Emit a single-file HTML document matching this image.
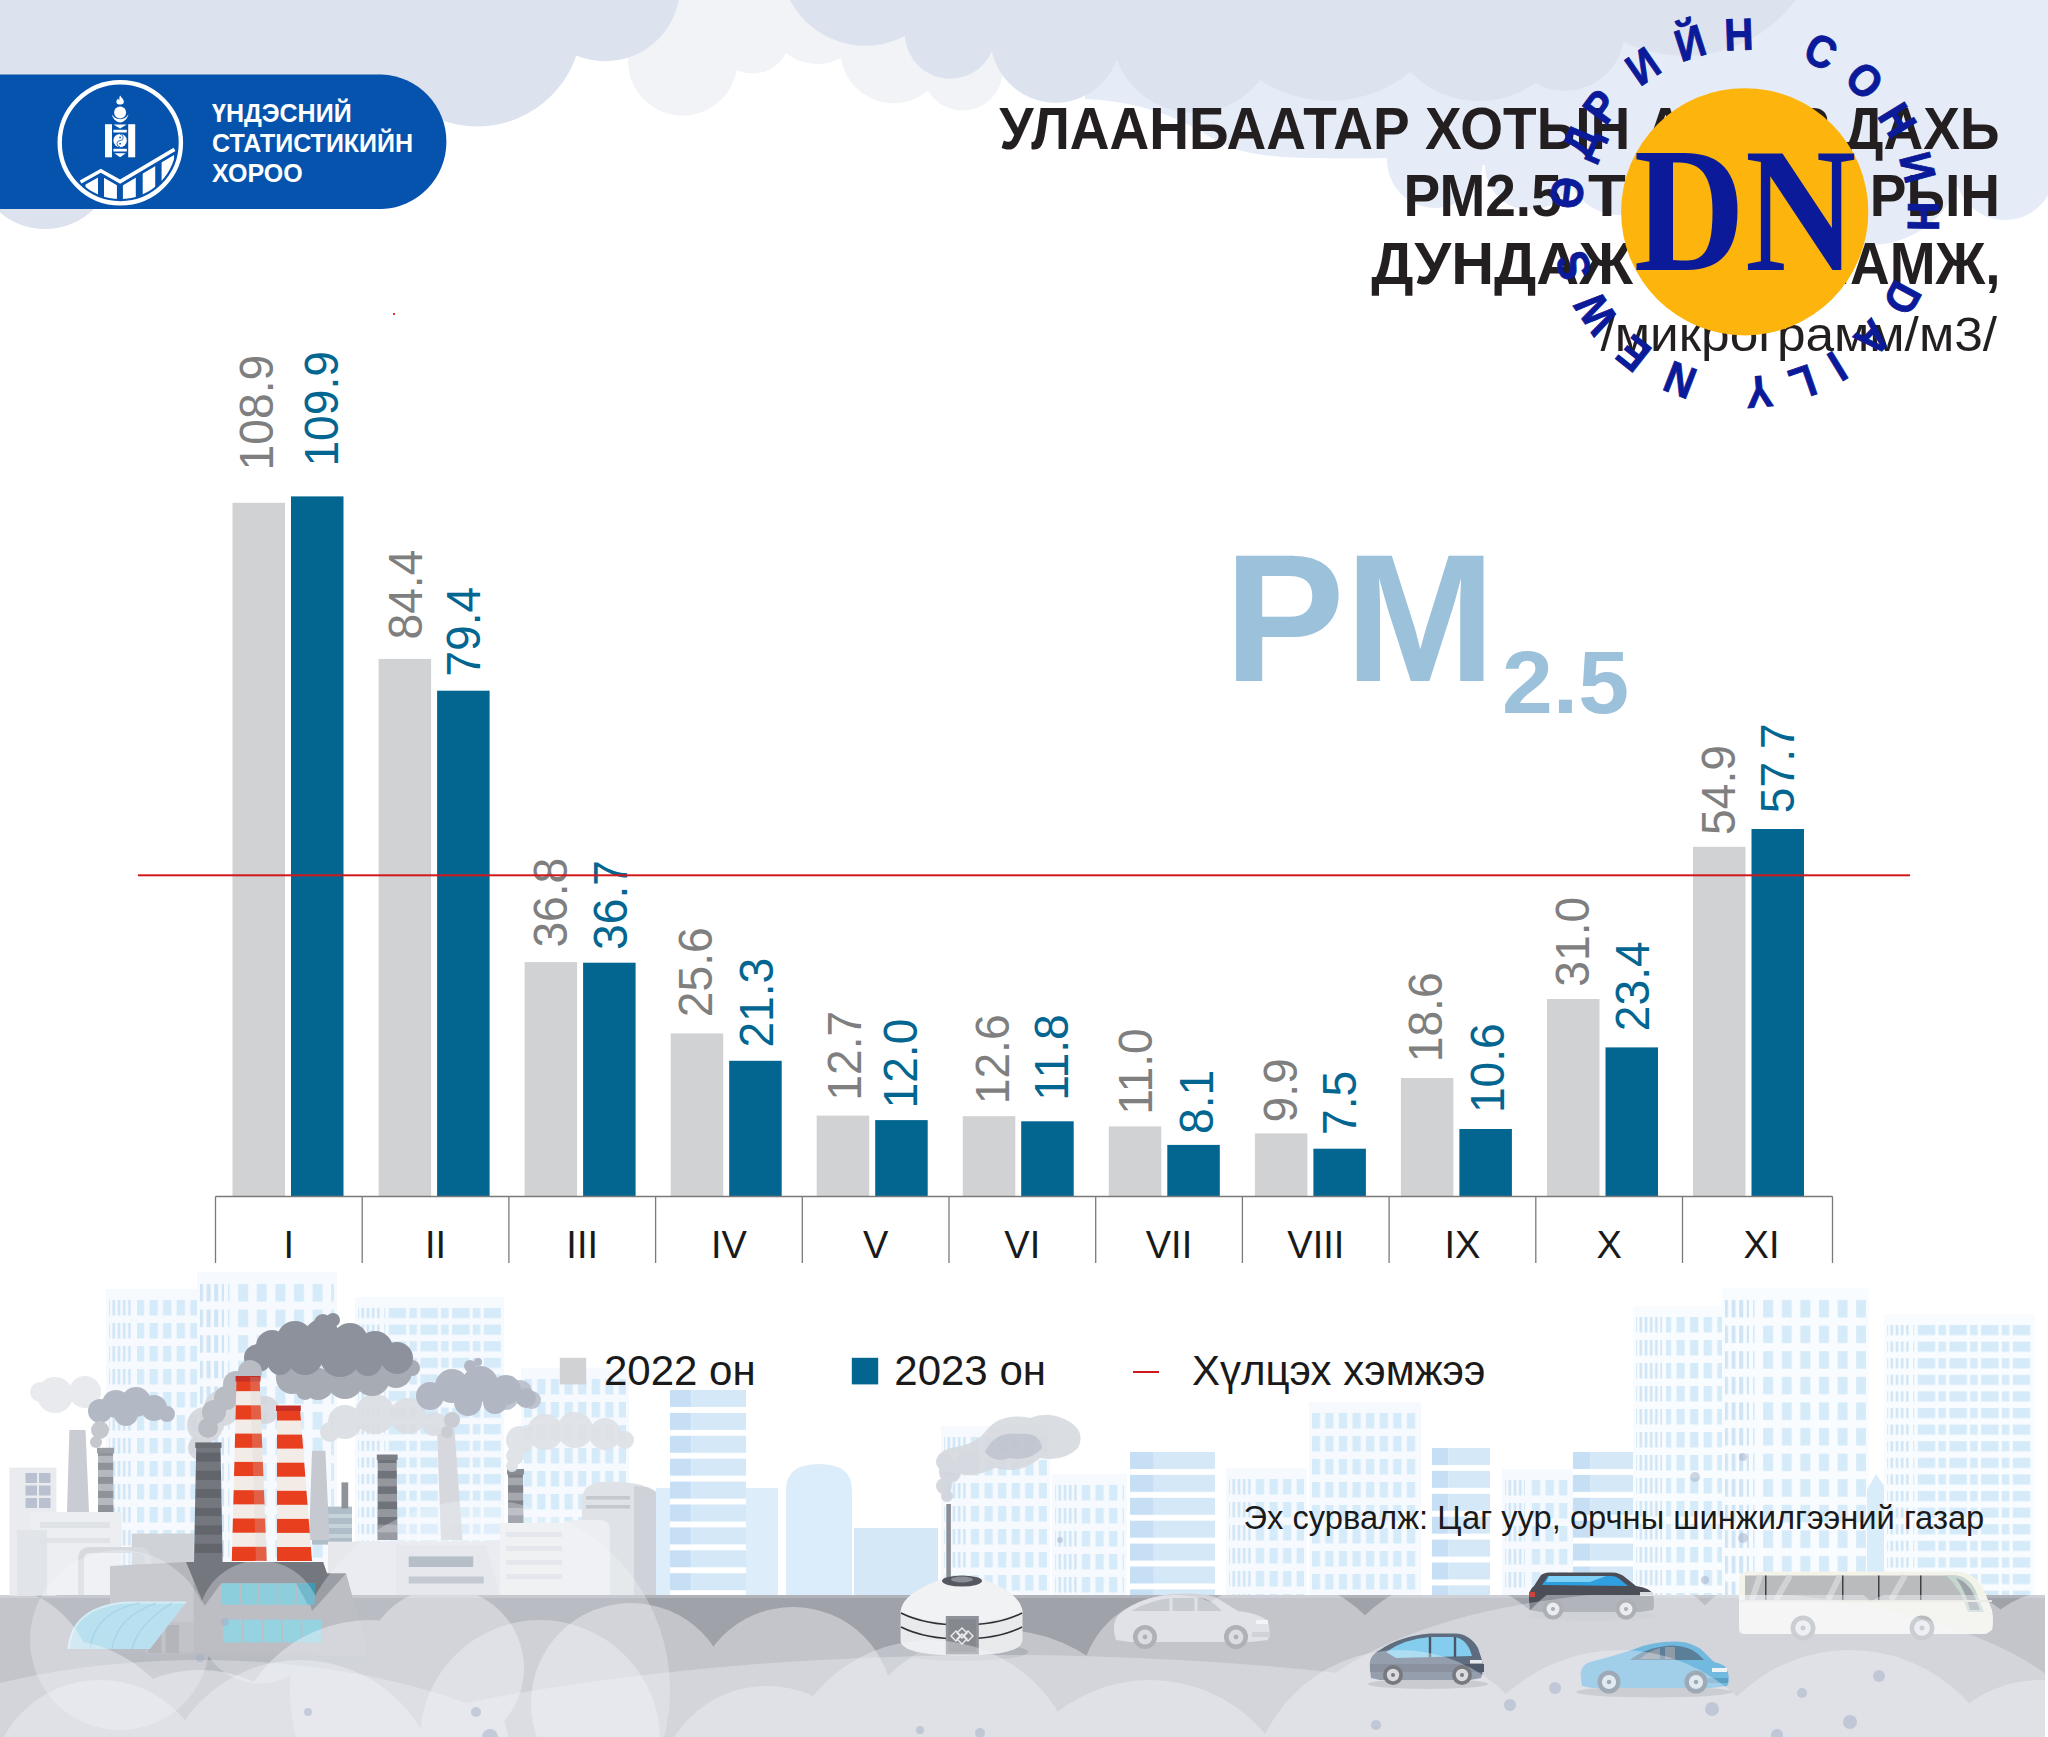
<!DOCTYPE html>
<html lang="mn"><head><meta charset="utf-8"><title>PM2.5</title>
<style>
html,body{margin:0;padding:0;background:#fff;}
body{width:2048px;height:1737px;overflow:hidden;font-family:"Liberation Sans",sans-serif;}
svg{display:block}
</style></head><body>
<svg width="2048" height="1737" viewBox="0 0 2048 1737">
<rect width="2048" height="1737" fill="#ffffff"/>
<defs>
<pattern id="wg" width="13.6" height="23" patternUnits="userSpaceOnUse"><rect x="2.6" y="3" width="8.4" height="15.5" fill="#d6ebf9"/></pattern>
<pattern id="wn" width="5.2" height="23" patternUnits="userSpaceOnUse"><rect x="1.3" y="3" width="2.6" height="15.5" fill="#cfe5f6"/></pattern>
<pattern id="wm" width="18.6" height="25.6" patternUnits="userSpaceOnUse"><rect x="4" y="4" width="10" height="17.5" fill="#d6ebf9"/></pattern>
<pattern id="wnm" width="7.6" height="25.6" patternUnits="userSpaceOnUse"><rect x="2" y="4" width="4" height="17.5" fill="#cfe5f6"/></pattern>
<pattern id="wr" width="31.7" height="16.6" patternUnits="userSpaceOnUse"><rect x="2" y="3" width="17.5" height="10.2" fill="#d6ebf9"/><rect x="22.6" y="3" width="7.7" height="10.2" fill="#d6ebf9"/></pattern>
<pattern id="wnr" width="5.2" height="16.6" patternUnits="userSpaceOnUse"><rect x="1.3" y="3" width="2.6" height="10.2" fill="#cfe5f6"/></pattern>
<pattern id="ws" width="100" height="22.9" patternUnits="userSpaceOnUse"><rect x="0" y="0" width="100" height="17" fill="#d5e8f8"/></pattern>
<pattern id="wsd" width="100" height="22.9" patternUnits="userSpaceOnUse"><rect x="0" y="0" width="100" height="17" fill="#c6dff5"/></pattern>
<linearGradient id="gnd" x1="0" y1="0" x2="0" y2="1"><stop offset="0" stop-color="#a9acb3"/><stop offset="0.07" stop-color="#acafb6"/><stop offset="0.08" stop-color="#b6b9bf"/><stop offset="1" stop-color="#c9ccd2"/></linearGradient>
<linearGradient id="fade" x1="0" y1="0" x2="0" y2="1"><stop offset="0" stop-color="#fff" stop-opacity="0"/><stop offset="1" stop-color="#fff" stop-opacity="0.55"/></linearGradient>
</defs>
<g id="buildings">
<rect x="106" y="1289" width="94" height="306" fill="#f6fafe"/>
<g transform="translate(106 1297)">
<rect x="3" y="0" width="24" height="298" fill="url(#wn)"/>
<rect x="31" y="0" width="60" height="298" fill="url(#wg)"/>
</g>
<rect x="197" y="1272" width="140" height="323" fill="#f6fafe"/>
<g transform="translate(197 1280)">
<rect x="3" y="0" width="24" height="315" fill="url(#wnm)"/>
<rect x="31" y="0" width="106" height="315" fill="url(#wm)"/>
</g>
<rect x="355" y="1297" width="149" height="298" fill="#f6fafe"/>
<g transform="translate(355 1305)">
<rect x="3" y="0" width="22" height="290" fill="url(#wnr)"/>
<rect x="29" y="0" width="117" height="290" fill="url(#wr)"/>
</g>
<rect x="521" y="1368" width="108" height="227" fill="#f6fafe"/>
<g transform="translate(521 1376)">
<rect x="3" y="0" width="102" height="219" fill="url(#wg)"/>
</g>
<rect x="656" y="1488" width="122" height="107" fill="#ddeefa"/>
<rect x="670" y="1390" width="76" height="205" fill="#ffffff"/>
<g transform="translate(0 1390)"><rect x="670" y="0" width="21.3" height="205" fill="url(#wsd)"/><rect x="691.3" y="0" width="54.7" height="205" fill="url(#ws)"/></g>
<path d="M786 1595 V1490 Q786 1464 819 1464 Q852 1464 852 1490 V1595 Z" fill="#dbedfa"/>
<rect x="854" y="1528" width="84" height="67" fill="#d4e8f8"/>
<rect x="941" y="1426" width="109" height="169" fill="#f6fafe"/>
<g transform="translate(941 1434)">
<rect x="3" y="0" width="22" height="161" fill="url(#wn)"/>
<rect x="29" y="0" width="77" height="161" fill="url(#wg)"/>
</g>
<rect x="1052" y="1474" width="75" height="121" fill="#f6fafe"/>
<g transform="translate(1052 1482)">
<rect x="3" y="0" width="22" height="113" fill="url(#wn)"/>
<rect x="29" y="0" width="43" height="113" fill="url(#wg)"/>
</g>
<rect x="1130" y="1452" width="85" height="143" fill="#ffffff"/>
<g transform="translate(0 1452)"><rect x="1130" y="0" width="23.8" height="143" fill="url(#wsd)"/><rect x="1153.8" y="0" width="61.2" height="143" fill="url(#ws)"/></g>
<rect x="1226" y="1468" width="81" height="127" fill="#f6fafe"/>
<g transform="translate(1226 1476)">
<rect x="3" y="0" width="22" height="119" fill="url(#wn)"/>
<rect x="29" y="0" width="49" height="119" fill="url(#wg)"/>
</g>
<rect x="1309" y="1402" width="112" height="193" fill="#f6fafe"/>
<g transform="translate(1309 1410)">
<rect x="3" y="0" width="106" height="185" fill="url(#wg)"/>
</g>
<rect x="1432" y="1448" width="58" height="147" fill="#ffffff"/>
<g transform="translate(0 1448)"><rect x="1432" y="0" width="16.2" height="147" fill="url(#wsd)"/><rect x="1448.2" y="0" width="41.8" height="147" fill="url(#ws)"/></g>
<rect x="1502" y="1469" width="78" height="126" fill="#f6fafe"/>
<g transform="translate(1502 1477)">
<rect x="3" y="0" width="20" height="118" fill="url(#wn)"/>
<rect x="27" y="0" width="48" height="118" fill="url(#wg)"/>
</g>
<rect x="1573" y="1452" width="63" height="143" fill="#ffffff"/>
<g transform="translate(0 1452)"><rect x="1573" y="0" width="17.6" height="143" fill="url(#wsd)"/><rect x="1590.6" y="0" width="45.4" height="143" fill="url(#ws)"/></g>
<rect x="1633" y="1306" width="96" height="289" fill="#f9fcff"/>
<g transform="translate(1633 1314)">
<rect x="3" y="0" width="26" height="281" fill="url(#wn)"/>
<rect x="33" y="0" width="60" height="281" fill="url(#wg)"/>
</g>
<rect x="1722" y="1288" width="147" height="307" fill="#f9fcff"/>
<g transform="translate(1722 1296)">
<rect x="3" y="0" width="24" height="299" fill="url(#wnm)"/>
<rect x="31" y="0" width="113" height="299" fill="url(#wm)"/>
</g>
<path d="M1867 1595 V1490 L1876 1474 L1887 1490 V1595 Z" fill="#d9ecf9"/>
<rect x="1884" y="1314" width="151" height="281" fill="#f9fcff"/>
<g transform="translate(1884 1322)">
<rect x="3" y="0" width="22" height="273" fill="url(#wnr)"/>
<rect x="29" y="0" width="119" height="273" fill="url(#wr)"/>
</g>
</g>
<rect x="0" y="1595" width="2045" height="142" fill="#9fa2a9"/>
<rect x="0" y="1595" width="2045" height="3" fill="#b0b3b9"/>
<g id="factory">
<rect x="9.4" y="1467.6" width="47" height="128" fill="#e9ebef"/>
<g fill="#b9c1d0"><rect x="25.5" y="1473" width="11.5" height="10"/><rect x="39" y="1473" width="11.5" height="10"/><rect x="25.5" y="1485.5" width="11.5" height="10"/><rect x="39" y="1485.5" width="11.5" height="10"/><rect x="25.5" y="1498" width="11.5" height="10"/><rect x="39" y="1498" width="11.5" height="10"/></g>
<polygon points="69.4,1430 85.5,1430 89,1512 67,1512" fill="#c9ccd3"/>
<clipPath id="c895a15"><polygon points="98,1448.8 113,1448.8 113.5,1512 98,1512"/></clipPath>
<g clip-path="url(#c895a15)">
<rect x="96" y="1448.8" width="19.5" height="7.5" fill="#8f9299"/>
<rect x="96" y="1455.8" width="19.5" height="7.5" fill="#b5b8be"/>
<rect x="96" y="1462.8" width="19.5" height="7.5" fill="#8f9299"/>
<rect x="96" y="1469.9" width="19.5" height="7.5" fill="#b5b8be"/>
<rect x="96" y="1476.9" width="19.5" height="7.5" fill="#8f9299"/>
<rect x="96" y="1483.9" width="19.5" height="7.5" fill="#b5b8be"/>
<rect x="96" y="1490.9" width="19.5" height="7.5" fill="#8f9299"/>
<rect x="96" y="1498.0" width="19.5" height="7.5" fill="#b5b8be"/>
<rect x="96" y="1505.0" width="19.5" height="7.5" fill="#8f9299"/>
</g>
<rect x="97" y="1447.8" width="17" height="5.5" fill="#9a9da4"/>
<rect x="29.6" y="1512" width="92" height="83" fill="#eceef1"/>
<rect x="17" y="1530" width="30" height="65" fill="#e1e4e8"/>
<g fill="#dfe2e7"><rect x="40" y="1522" width="70" height="6"/><rect x="40" y="1538" width="70" height="5"/></g>
<rect x="131.8" y="1533.5" width="62" height="40" fill="#cfd2d7"/>
<path d="M81 1595 V1560 Q81 1550 91 1550 H138 Q148 1550 148 1560 V1595" fill="none" stroke="#d6d9de" stroke-width="6"/>
<rect x="312" y="1506.6" width="40" height="38" fill="#aebdc7"/>
<g fill="#c7d3da"><rect x="312" y="1514" width="40" height="4"/><rect x="312" y="1524" width="40" height="4"/><rect x="312" y="1534" width="40" height="4"/></g>
<polygon points="312,1450.7 325.4,1450.7 329.5,1540 309,1540" fill="#c6c9cf"/>
<rect x="341.5" y="1482.4" width="6.7" height="26" fill="#8e9299"/>
<clipPath id="ce635b0"><polygon points="377.8,1455.5 396.6,1455.5 397.5,1540 377.5,1540"/></clipPath>
<g clip-path="url(#ce635b0)">
<rect x="375.5" y="1455.5" width="24.0" height="8.2" fill="#70737a"/>
<rect x="375.5" y="1463.2" width="24.0" height="8.2" fill="#94979e"/>
<rect x="375.5" y="1470.9" width="24.0" height="8.2" fill="#70737a"/>
<rect x="375.5" y="1478.5" width="24.0" height="8.2" fill="#94979e"/>
<rect x="375.5" y="1486.2" width="24.0" height="8.2" fill="#70737a"/>
<rect x="375.5" y="1493.9" width="24.0" height="8.2" fill="#94979e"/>
<rect x="375.5" y="1501.6" width="24.0" height="8.2" fill="#70737a"/>
<rect x="375.5" y="1509.3" width="24.0" height="8.2" fill="#94979e"/>
<rect x="375.5" y="1517.0" width="24.0" height="8.2" fill="#70737a"/>
<rect x="375.5" y="1524.6" width="24.0" height="8.2" fill="#94979e"/>
<rect x="375.5" y="1532.3" width="24.0" height="8.2" fill="#70737a"/>
</g>
<rect x="376.8" y="1454.5" width="20.80000000000001" height="5.5" fill="#7c7f86"/>
<polygon points="437,1428.6 454.4,1428.6 462.5,1540 441,1540" fill="#d6d8dd"/>
<clipPath id="c86783f"><polygon points="508,1470 523,1470 523.5,1523 508,1523"/></clipPath>
<g clip-path="url(#c86783f)">
<rect x="506" y="1470.0" width="19.5" height="8.1" fill="#80838a"/>
<rect x="506" y="1477.6" width="19.5" height="8.1" fill="#a5a8af"/>
<rect x="506" y="1485.1" width="19.5" height="8.1" fill="#80838a"/>
<rect x="506" y="1492.7" width="19.5" height="8.1" fill="#a5a8af"/>
<rect x="506" y="1500.3" width="19.5" height="8.1" fill="#80838a"/>
<rect x="506" y="1507.9" width="19.5" height="8.1" fill="#a5a8af"/>
<rect x="506" y="1515.4" width="19.5" height="8.1" fill="#80838a"/>
</g>
<rect x="507" y="1469" width="17" height="5.5" fill="#8a8d94"/>
<rect x="328" y="1541.6" width="250" height="53.4" fill="#e6e8ec"/>
<polygon points="396,1545 486,1545 500,1595 396,1595" fill="#dfe2e6"/>
<rect x="408.7" y="1556.4" width="64.5" height="10.6" fill="#9ba6b1"/><rect x="408.7" y="1576.5" width="75" height="7" fill="#aeb6bf"/>
<rect x="500" y="1523" width="80" height="72" fill="#eceef0"/>
<g fill="#dde0e5"><rect x="506" y="1532" width="68" height="5"/><rect x="506" y="1546" width="68" height="5"/><rect x="506" y="1560" width="68" height="5"/><rect x="506" y="1574" width="68" height="5"/></g>
<path d="M582 1595 V1500 Q582 1484 602 1482 Q640 1480 656 1492 V1595 Z" fill="#dfe2e6"/>
<path d="M634 1595 V1486 Q650 1486 656 1492 V1595 Z" fill="#cfd2d8"/>
<g fill="#c4c8cf"><rect x="586" y="1496" width="44" height="3.5"/><rect x="586" y="1505" width="44" height="3.5"/></g>
<path d="M562 1595 V1530 Q562 1520 575 1520 H600 Q610 1520 610 1530 V1595 Z" fill="#eceef1"/>
<g fill="#e6e8ec" opacity="0.9"><circle cx="55" cy="1395" r="18"/><circle cx="85" cy="1392" r="16"/><circle cx="40" cy="1392" r="10"/></g>
<g fill="#d4d7dc" opacity="0.9"><circle cx="205" cy="1425" r="18"/><circle cx="222" cy="1408" r="18"/><circle cx="245" cy="1398" r="16"/><circle cx="200" cy="1448" r="12"/><circle cx="265" cy="1410" r="14"/></g>
<g fill="#dcdfe4" opacity="0.95"><circle cx="345" cy="1422" r="17"/><circle cx="375" cy="1414" r="20"/><circle cx="408" cy="1416" r="18"/><circle cx="434" cy="1424" r="12"/><circle cx="330" cy="1432" r="10"/></g>
<g fill="#dfe2e6" opacity="0.95"><circle cx="520" cy="1440" r="14"/><circle cx="545" cy="1432" r="18"/><circle cx="575" cy="1430" r="18"/><circle cx="605" cy="1434" r="16"/><circle cx="625" cy="1440" r="9"/><circle cx="515" cy="1456" r="9"/><circle cx="512" cy="1466" r="6"/></g>
<g fill="#b9bfcb" opacity="0.9"><circle cx="506" cy="1398" r="12"/><circle cx="520" cy="1392" r="12"/><circle cx="532" cy="1400" r="9"/></g>
<g fill="#b3b8c5" opacity="1"><circle cx="100" cy="1411" r="12"/><circle cx="116" cy="1404" r="14"/><circle cx="136" cy="1402" r="15"/><circle cx="154" cy="1408" r="13"/><circle cx="167" cy="1414" r="8"/><circle cx="126" cy="1414" r="12"/></g>
<g fill="#c4c7ce" opacity="1"><circle cx="100" cy="1430" r="9"/><circle cx="96" cy="1442" r="6"/></g>
<g fill="#b1b6c3" opacity="1"><circle cx="430" cy="1396" r="14"/><circle cx="452" cy="1386" r="17"/><circle cx="480" cy="1384" r="18"/><circle cx="506" cy="1390" r="15"/><circle cx="526" cy="1398" r="10"/><circle cx="468" cy="1402" r="14"/><circle cx="495" cy="1402" r="12"/></g>
<g fill="#b1b6c3" opacity="1"><circle cx="470" cy="1366" r="6"/><circle cx="478" cy="1362" r="4"/></g>
<g fill="#c9ccd2" opacity="1"><circle cx="452" cy="1420" r="8"/><circle cx="447" cy="1432" r="6"/></g>
<g fill="#a7abb4" opacity="1"><circle cx="292" cy="1378" r="16"/><circle cx="318" cy="1384" r="16"/><circle cx="345" cy="1381" r="18"/><circle cx="372" cy="1378" r="18"/><circle cx="396" cy="1372" r="16"/><circle cx="305" cy="1391" r="9"/><circle cx="412" cy="1368" r="8"/></g>
<g fill="#8c919b" opacity="1"><circle cx="258" cy="1358" r="14"/><circle cx="272" cy="1346" r="16"/><circle cx="295" cy="1339" r="18"/><circle cx="322" cy="1337" r="18"/><circle cx="350" cy="1341" r="18"/><circle cx="375" cy="1349" r="18"/><circle cx="397" cy="1358" r="16"/><circle cx="340" cy="1357" r="20"/><circle cx="305" cy="1357" r="18"/><circle cx="280" cy="1363" r="12"/><circle cx="368" cy="1362" r="14"/></g>
<g fill="#8c919b" opacity="1"><circle cx="323" cy="1323" r="9"/><circle cx="333" cy="1320" r="7"/><circle cx="354" cy="1331" r="4"/></g>
<g fill="#b9bcc3" opacity="1"><circle cx="236" cy="1384" r="13"/><circle cx="250" cy="1372" r="12"/><circle cx="226" cy="1398" r="12"/><circle cx="214" cy="1412" r="12"/><circle cx="208" cy="1428" r="10"/></g>
<clipPath id="c2b5371"><polygon points="196.3,1443.4 220.5,1443.4 222.6,1562 194,1562"/></clipPath>
<g clip-path="url(#c2b5371)">
<rect x="192" y="1443.4" width="32.599999999999994" height="9.6" fill="#74777e"/>
<rect x="192" y="1452.5" width="32.599999999999994" height="9.6" fill="#62656c"/>
<rect x="192" y="1461.6" width="32.599999999999994" height="9.6" fill="#74777e"/>
<rect x="192" y="1470.8" width="32.599999999999994" height="9.6" fill="#62656c"/>
<rect x="192" y="1479.9" width="32.599999999999994" height="9.6" fill="#74777e"/>
<rect x="192" y="1489.0" width="32.599999999999994" height="9.6" fill="#62656c"/>
<rect x="192" y="1498.1" width="32.599999999999994" height="9.6" fill="#74777e"/>
<rect x="192" y="1507.3" width="32.599999999999994" height="9.6" fill="#62656c"/>
<rect x="192" y="1516.4" width="32.599999999999994" height="9.6" fill="#74777e"/>
<rect x="192" y="1525.5" width="32.599999999999994" height="9.6" fill="#62656c"/>
<rect x="192" y="1534.6" width="32.599999999999994" height="9.6" fill="#74777e"/>
<rect x="192" y="1543.8" width="32.599999999999994" height="9.6" fill="#62656c"/>
<rect x="192" y="1552.9" width="32.599999999999994" height="9.6" fill="#74777e"/>
</g>
<rect x="195.3" y="1442.4" width="26.19999999999999" height="5.5" fill="#6a6d74"/>
<clipPath id="c2661df"><polygon points="236.6,1377 259.5,1377 266.7,1561 231.8,1561"/></clipPath>
<g clip-path="url(#c2661df)">
<rect x="229.8" y="1377.0" width="38.89999999999998" height="14.7" fill="#e8401f"/>
<rect x="229.8" y="1391.2" width="38.89999999999998" height="14.7" fill="#f3ebe6"/>
<rect x="229.8" y="1405.3" width="38.89999999999998" height="14.7" fill="#e8401f"/>
<rect x="229.8" y="1419.5" width="38.89999999999998" height="14.7" fill="#f3ebe6"/>
<rect x="229.8" y="1433.6" width="38.89999999999998" height="14.7" fill="#e8401f"/>
<rect x="229.8" y="1447.8" width="38.89999999999998" height="14.7" fill="#f3ebe6"/>
<rect x="229.8" y="1461.9" width="38.89999999999998" height="14.7" fill="#e8401f"/>
<rect x="229.8" y="1476.1" width="38.89999999999998" height="14.7" fill="#f3ebe6"/>
<rect x="229.8" y="1490.2" width="38.89999999999998" height="14.7" fill="#e8401f"/>
<rect x="229.8" y="1504.4" width="38.89999999999998" height="14.7" fill="#f3ebe6"/>
<rect x="229.8" y="1518.5" width="38.89999999999998" height="14.7" fill="#e8401f"/>
<rect x="229.8" y="1532.7" width="38.89999999999998" height="14.7" fill="#f3ebe6"/>
<rect x="229.8" y="1546.8" width="38.89999999999998" height="14.7" fill="#e8401f"/>
</g>
<rect x="235.6" y="1376" width="24.900000000000006" height="5.5" fill="#c62f25"/>
<clipPath id="cb823f7"><polygon points="277,1406.5 299.8,1406.5 312,1561 277,1561"/></clipPath>
<g clip-path="url(#cb823f7)">
<rect x="275" y="1406.5" width="39" height="14.5" fill="#e8401f"/>
<rect x="275" y="1420.5" width="39" height="14.5" fill="#f3ebe6"/>
<rect x="275" y="1434.6" width="39" height="14.5" fill="#e8401f"/>
<rect x="275" y="1448.6" width="39" height="14.5" fill="#f3ebe6"/>
<rect x="275" y="1462.7" width="39" height="14.5" fill="#e8401f"/>
<rect x="275" y="1476.7" width="39" height="14.5" fill="#f3ebe6"/>
<rect x="275" y="1490.8" width="39" height="14.5" fill="#e8401f"/>
<rect x="275" y="1504.8" width="39" height="14.5" fill="#f3ebe6"/>
<rect x="275" y="1518.9" width="39" height="14.5" fill="#e8401f"/>
<rect x="275" y="1532.9" width="39" height="14.5" fill="#f3ebe6"/>
<rect x="275" y="1547.0" width="39" height="14.5" fill="#e8401f"/>
</g>
<rect x="276" y="1405.5" width="24.80000000000001" height="5.5" fill="#c62f25"/>
<polygon points="250,1377 259.5,1377 266.7,1561 256,1561" fill="#d2d2d2" opacity="0.22"/>
<polygon points="110,1566 186,1562 323,1562 327,1573.5 346,1573.5 366,1646 366,1654.5 146.5,1654.5 146.5,1622 110,1622" fill="#b4b6bb"/>
<polygon points="193.6,1562 323,1562 327,1573.5 346,1573.5 366,1646 366,1654.5 193.6,1654.5" fill="#a3a5ab"/>
<polygon points="186,1562 323,1562 327,1573.5 346,1573.5 312,1611 304,1583.5 221,1583.5 204.5,1606" fill="#74777e"/>
<rect x="221.8" y="1583.3" width="92.8" height="21.5" fill="#5fbcd0"/>
<rect x="223.2" y="1619.6" width="98.1" height="22.8" fill="#6cc3d6"/>
<g fill="#a3a5ab"><rect x="239.6" y="1583.3" width="1.6" height="21.5"/><rect x="258.1" y="1583.3" width="1.6" height="21.5"/><rect x="276.7" y="1583.3" width="1.6" height="21.5"/><rect x="295.2" y="1583.3" width="1.6" height="21.5"/><rect x="242.0" y="1619.6" width="1.6" height="22.8"/><rect x="261.6" y="1619.6" width="1.6" height="22.8"/><rect x="281.2" y="1619.6" width="1.6" height="22.8"/><rect x="300.8" y="1619.6" width="1.6" height="22.8"/></g>
<polygon points="296,1583.3 314.6,1583.3 314.6,1604.8 308,1604.8" fill="#2b8fa8" opacity="0.7"/>
<rect x="146.5" y="1622" width="47" height="32.5" fill="#aaadb2"/>
<rect x="148" y="1625" width="13.5" height="28" fill="#97999f"/><rect x="165.5" y="1625" width="13.5" height="28" fill="#97999f"/>
<path d="M68.6 1649 Q72 1606 128 1602.5 L186 1602.5 L150 1649 Z" fill="#9fd6ea"/>
<path d="M68.6 1649 Q72 1606 128 1602.5 L186 1602.5" fill="none" stroke="#c6e8f3" stroke-width="2"/>
<g stroke="#7fc4dd" stroke-width="1.2" fill="none"><path d="M90 1649 Q94 1612 140 1603"/><path d="M112 1649 Q116 1618 156 1603"/><path d="M132 1649 Q138 1624 172 1603"/></g>
<ellipse cx="222" cy="1662" rx="152" ry="10" fill="#9da0a7" opacity="0.55"/>
</g>
<g id="vehicles">
<ellipse cx="1192" cy="1644" rx="80" ry="6" fill="#9fa2a9" opacity="0.5"/>
<path d="M1114 1632 Q1113 1618 1122 1612 Q1140 1598 1170 1594 Q1200 1592 1215 1597 L1238 1611 Q1262 1614 1268 1622 Q1271 1632 1268 1640 L1250 1642 H1130 L1116 1640 Z" fill="#d2d4d8"/>
<path d="M1131 1611 Q1150 1600 1172 1598 H1200 Q1210 1598 1222 1611 Z" fill="#a9acb3"/>
<path d="M1171 1598 v13 M1196 1598 v13" stroke="#d2d4d8" stroke-width="3"/>
<rect x="1256" y="1620" width="12" height="4" fill="#f2f2f2"/><rect x="1252" y="1632" width="18" height="5" fill="#b5b8be"/>
<circle cx="1145" cy="1637" r="12" fill="#7d8087"/><circle cx="1145" cy="1637" r="7.4" fill="#c9cbd0"/><circle cx="1145" cy="1637" r="2.4" fill="#7d8087"/>
<circle cx="1236" cy="1637" r="12" fill="#7d8087"/><circle cx="1236" cy="1637" r="7.4" fill="#c9cbd0"/><circle cx="1236" cy="1637" r="2.4" fill="#7d8087"/>
<ellipse cx="1592" cy="1616" rx="64" ry="5" fill="#8d9097" opacity="0.5"/>
<path d="M1529 1600 Q1528 1590 1534 1586 L1541 1575 Q1544 1572.5 1550 1572.5 H1612 Q1620 1572.5 1626 1578 L1636 1586 Q1650 1588 1653 1594 Q1655 1604 1653 1610 L1640 1612 H1540 L1530 1610 Z" fill="#4b4e56"/>
<path d="M1542 1585 L1548 1576 H1611 Q1617 1576 1622 1581 L1628 1586 Z" fill="#2f9fe0"/>
<path d="M1549 1576 H1606 L1590 1582 H1546 Z" fill="#7fd0f5"/>
<rect x="1640" y="1592" width="13" height="4" fill="#d9dbdf"/><rect x="1529" y="1592" width="6" height="5" fill="#c9453c"/>
<circle cx="1553" cy="1609" r="10.5" fill="#3d4047"/><circle cx="1553" cy="1609" r="6.5" fill="#d9dbdf"/><circle cx="1553" cy="1609" r="2.1" fill="#3d4047"/>
<circle cx="1626" cy="1609" r="10.5" fill="#3d4047"/><circle cx="1626" cy="1609" r="6.5" fill="#d9dbdf"/><circle cx="1626" cy="1609" r="2.1" fill="#3d4047"/>
<ellipse cx="1868" cy="1636" rx="125" ry="6" fill="#9fa2a9" opacity="0.45"/>
<path d="M1739 1580 Q1739 1571.5 1748 1571.5 H1955 Q1975 1571.5 1984 1590 L1992 1610 Q1994 1622 1992 1630 L1986 1634 H1744 Q1739 1634 1739 1628 Z" fill="#f4f3ea"/>
<path d="M1745 1575.5 H1953 Q1968 1575.5 1975 1590 L1979 1600 H1745 Z" fill="#b9bbbd"/>
<path d="M1760 1575.5 l-8 24.5 M1790 1575.5 l-14 24.5 M1840 1575.5 l-12 24.5 M1905 1575.5 l-14 24.5" stroke="#d9dadb" stroke-width="6" opacity="0.8"/>
<g fill="#3d4047"><rect x="1765" y="1575.5" width="1.5" height="24.5"/><rect x="1842" y="1575.5" width="1.5" height="24.5"/><rect x="1878" y="1575.5" width="1.5" height="24.5"/><rect x="1920" y="1575.5" width="1.5" height="24.5"/></g>
<path d="M1946 1575.5 H1955 Q1968 1576 1975 1590 L1984 1612 L1968 1612 Q1962 1590 1946 1575.5 Z" fill="#c5d6cf"/>
<path d="M1956 1578 Q1968 1582 1974 1595 L1980 1610 L1970 1610 Q1966 1592 1956 1578 Z" fill="#9da3a8"/>
<rect x="1739" y="1600" width="253" height="2" fill="#e4e3d8"/>
<circle cx="1803" cy="1628" r="12.5" fill="#8a8d93"/><circle cx="1803" cy="1628" r="7.8" fill="#e4e5e7"/><circle cx="1803" cy="1628" r="2.5" fill="#8a8d93"/>
<circle cx="1922" cy="1628" r="12.5" fill="#8a8d93"/><circle cx="1922" cy="1628" r="7.8" fill="#e4e5e7"/><circle cx="1922" cy="1628" r="2.5" fill="#8a8d93"/>
</g>
<clipPath id="gclip"><rect x="0" y="1595" width="2045" height="142"/></clipPath>
<clipPath id="fclip"><rect x="0" y="1480" width="660" height="300"/><rect x="0" y="1595" width="2045" height="142"/></clipPath>
<g fill="#f6f8fd" opacity="0.3" clip-path="url(#fclip)">
<circle cx="120" cy="1640" r="90"/>
<circle cx="259.7" cy="1622" r="61.5"/>
<circle cx="480" cy="1690" r="190"/>
</g>
<g fill="#f6f8fd" opacity="0.41" clip-path="url(#gclip)">
<circle cx="444" cy="1668" r="80"/>
<circle cx="370" cy="1760" r="140"/>
<circle cx="60" cy="1770" r="130"/>
<circle cx="-10" cy="1690" r="105"/>
<circle cx="200" cy="1800" r="130"/>
<circle cx="631" cy="1703" r="100"/>
<circle cx="793" cy="1707" r="100"/>
<circle cx="1000" cy="1790" r="160"/>
<circle cx="1175" cy="1690" r="95"/>
<circle cx="1280" cy="1700" r="120"/>
<circle cx="1450" cy="1700" r="120"/>
<circle cx="1620" cy="1690" r="120"/>
<circle cx="1790" cy="1690" r="120"/>
<circle cx="1930" cy="1700" r="115"/>
<circle cx="2060" cy="1690" r="100"/>
</g>
<g id="ger">
<ellipse cx="962" cy="1652" rx="66" ry="9" fill="#9fa2a9" opacity="0.5"/>
<rect x="946.3" y="1504" width="4.6" height="78" fill="#8b8e95"/>
<path d="M900.6 1612 Q902 1596 930 1584 Q948 1575.5 962 1575.5 Q976 1575.5 994 1584 Q1021 1596 1022.5 1612 V1640 Q1022.5 1655.5 962 1655.5 Q900.6 1655.5 900.6 1640 Z" fill="#e9eaec"/>
<path d="M900.6 1612 Q902 1596 930 1584 Q948 1575.5 962 1575.5 Q976 1575.5 994 1584 Q1021 1596 1022.5 1612 Q1000 1622 962 1622 Q922 1622 900.6 1612 Z" fill="#f1f2f3"/>
<g fill="none" stroke="#2e3036" stroke-width="1.6"><path d="M901 1613 Q925 1625 962 1625 Q999 1625 1022 1613"/><path d="M901 1627 Q925 1639 962 1639 Q999 1639 1022 1627"/></g>
<ellipse cx="962" cy="1581" rx="20" ry="5.5" fill="#55585f"/><ellipse cx="962" cy="1579.5" rx="11" ry="3" fill="#8b8e95"/>
<rect x="945.8" y="1616" width="33" height="38.5" fill="#8f9298"/><rect x="948.5" y="1619" width="27.6" height="33" fill="#85888e"/>
<g fill="none" stroke="#eceded" stroke-width="1.4"><path d="M962 1628 l5 5 l-5 5 l-5 -5 Z"/><path d="M962 1634 l5 5 l-5 5 l-5 -5 Z"/><path d="M956 1631 l5 5 l-5 5 l-5 -5 Z"/><path d="M968 1631 l5 5 l-5 5 l-5 -5 Z"/></g>
<g fill="#cfd2d9" opacity="0.85"><circle cx="947" cy="1496" r="6"/><circle cx="944" cy="1486" r="8"/><circle cx="950" cy="1472" r="11"/><circle cx="968" cy="1462" r="12"/><circle cx="945" cy="1462" r="9"/></g>
<path d="M940 1470 Q930 1455 950 1448 Q975 1445 985 1432 Q1000 1412 1030 1418 Q1050 1410 1070 1422 Q1086 1432 1078 1448 Q1064 1462 1040 1458 Q1020 1475 995 1468 Q975 1478 960 1474 Z" fill="#d6d9df" opacity="0.9"/>
<path d="M985 1452 Q995 1430 1020 1434 Q1040 1432 1042 1448 Q1030 1462 1010 1458 Q995 1464 985 1452 Z" fill="#bfc4cf" opacity="0.9"/>
</g>
<g fill="#f6f8fd" opacity="0.32" clip-path="url(#gclip)">
<ellipse cx="1000" cy="1900" rx="900" ry="245"/>
<ellipse cx="200" cy="1850" rx="420" ry="190"/>
<ellipse cx="1750" cy="1850" rx="520" ry="200"/>
<ellipse cx="1690" cy="1745" rx="400" ry="155"/>
</g>
<g id="cars2">
<ellipse cx="1428" cy="1684" rx="60" ry="5" fill="#8d9097" opacity="0.5"/>
<path d="M1370 1668 Q1368 1656 1380 1650 Q1400 1636 1430 1633.5 H1455 Q1470 1634 1478 1648 L1482 1660 Q1484 1672 1481 1678 L1470 1680 H1380 L1371 1678 Z" fill="#5e6c7f"/>
<path d="M1386 1652 Q1404 1639 1430 1637 H1452 Q1464 1637 1470 1650 L1472 1656 L1396 1658 Z" fill="#84cdee"/>
<path d="M1430 1637 v20 M1455 1637 v20" stroke="#4a5667" stroke-width="2.4"/>
<path d="M1370 1664 H1484 V1672 H1370 Z" fill="#4d596a"/>
<rect x="1470" y="1660" width="12" height="3.5" fill="#e6e8ec"/>
<circle cx="1393" cy="1675" r="10" fill="#2f3238"/><circle cx="1393" cy="1675" r="6.2" fill="#c9cbd0"/><circle cx="1393" cy="1675" r="2.0" fill="#2f3238"/>
<circle cx="1462" cy="1675" r="10" fill="#2f3238"/><circle cx="1462" cy="1675" r="6.2" fill="#c9cbd0"/><circle cx="1462" cy="1675" r="2.0" fill="#2f3238"/>
<ellipse cx="1654" cy="1692" rx="78" ry="5.5" fill="#8d9097" opacity="0.45"/>
<path d="M1581 1678 Q1579 1666 1590 1662 Q1610 1657 1632 1650 Q1650 1641.5 1676 1641.5 Q1694 1642 1704 1652 L1714 1662 Q1726 1664 1728 1672 Q1730 1682 1727 1686 L1712 1688 H1592 L1582 1686 Z" fill="#71b9de"/>
<path d="M1630 1660 Q1646 1647 1672 1645.5 Q1690 1646 1698 1654 L1704 1660 Z" fill="#5c7f99"/>
<path d="M1640 1659 Q1650 1650 1660 1648 v11 Z M1665 1647 h10 v12 h-10 Z" fill="#8e9aa6"/>
<rect x="1712" y="1668" width="15" height="4" fill="#eef3f6"/><rect x="1708" y="1678" width="20" height="5" fill="#5b9fc4"/>
<circle cx="1609" cy="1682" r="11.5" fill="#6b7e8e"/><circle cx="1609" cy="1682" r="7.1" fill="#d6e3ea"/><circle cx="1609" cy="1682" r="2.3" fill="#6b7e8e"/>
<circle cx="1696" cy="1682" r="11.5" fill="#6b7e8e"/><circle cx="1696" cy="1682" r="7.1" fill="#d6e3ea"/><circle cx="1696" cy="1682" r="2.3" fill="#6b7e8e"/>
</g>
<g fill="#f6f8fd" opacity="0.36" clip-path="url(#gclip)">
<circle cx="540" cy="1740" r="120"/>
<circle cx="767" cy="1796" r="110"/>
<circle cx="930" cy="1790" r="150"/>
<circle cx="1150" cy="1830" r="150"/>
<circle cx="300" cy="1800" r="140"/>
<circle cx="100" cy="1790" r="110"/>
<circle cx="1400" cy="1800" r="150"/>
<circle cx="1620" cy="1820" r="170"/>
<circle cx="1850" cy="1810" r="160"/>
<circle cx="2040" cy="1800" r="120"/>
</g>
<g fill="#a3aec6" opacity="0.5">
<circle cx="1743" cy="1457" r="4"/>
<circle cx="1695" cy="1477" r="5"/>
<circle cx="1743" cy="1538" r="5"/>
<circle cx="1705" cy="1580" r="4"/>
<circle cx="1555" cy="1688" r="6"/>
<circle cx="1510" cy="1705" r="6"/>
<circle cx="1376" cy="1725" r="5"/>
<circle cx="1712" cy="1709" r="7"/>
<circle cx="1879" cy="1676" r="6"/>
<circle cx="1802" cy="1693" r="5"/>
<circle cx="1850" cy="1722" r="7"/>
<circle cx="1777" cy="1735" r="6"/>
<circle cx="308" cy="1712" r="4"/>
<circle cx="476" cy="1712" r="5"/>
<circle cx="980" cy="1733" r="5"/>
<circle cx="920" cy="1730" r="4"/>
<circle cx="490" cy="1737" r="8"/>
<circle cx="200" cy="1658" r="4"/>
<circle cx="225" cy="1622" r="4"/>
<circle cx="1060" cy="1540" r="3"/>
</g>
<g id="clouds-top">
<g fill="#f1f3f6">
<polygon points="628,0 628,61.5 736.6,70 786,53 840.9,58 928,90.6 1000,85 1000,0"/>
<circle cx="682.7" cy="60.9" r="54.7"/>
<circle cx="752.6" cy="36.2" r="37.4"/>
<circle cx="817.2" cy="14.5" r="49.5"/>
<circle cx="893.6" cy="49.8" r="53.4"/>
<circle cx="962.6" cy="70.3" r="40.2"/>
</g>
<path fill="#e6ecf7" d="M1085 0 V99 C1130 101 1172 112 1215 140 C1250 160 1300 159 1388 158 L1400 165 H2048 V0 Z"/>
<g fill="#e6ecf7">
<circle cx="1435" cy="160" r="48"/>
<circle cx="1530" cy="165" r="45"/>
<circle cx="1620" cy="160" r="55"/>
<circle cx="1870" cy="150" r="95"/>
<circle cx="2005" cy="170" r="50"/>
<circle cx="2060" cy="120" r="60"/>
</g>
<g fill="#dde3ee">
<rect x="0" y="0" width="110" height="165"/>
<polygon points="0,0 678.5,0 572,58 480,82 0,82"/>
<circle cx="45" cy="159" r="70"/>
<circle cx="477.3" cy="21.9" r="104.6"/>
<circle cx="605" cy="-13.7" r="75"/>
</g>
<g fill="#dde3ee">
<polygon points="790,0 905,36 992,51 1116.6,59.8 1260,80 1410.5,72 1535,83 1623.7,41.6 1795.5,0"/>
<circle cx="865.4" cy="-39.2" r="85"/>
<circle cx="950.2" cy="33.4" r="45.3"/>
<circle cx="1055.5" cy="37.9" r="64.9"/>
<circle cx="1193.9" cy="30.1" r="82.8"/>
<circle cx="1329.7" cy="-26.1" r="127"/>
<circle cx="1479.1" cy="5.9" r="95.3"/>
<circle cx="1564.7" cy="31" r="59.9"/>
<circle cx="1684.7" cy="-81.9" r="137.8"/>
</g>
</g>
<g id="pill">
<path d="M0 74.5 H381.7 A67.3 67.3 0 0 1 381.7 209 H0 Z" fill="#0553ad"/>
<circle cx="120.3" cy="142.8" r="60.6" fill="none" stroke="#fff" stroke-width="4.4"/>
<defs><clipPath id="embc"><circle cx="120.2" cy="142.7" r="56.3"/></clipPath><clipPath id="embl"><polygon points="60,199 80.6,187.3 100.8,176 120.1,186.9 174.5,154.7 186,148 186,212 60,212"/></clipPath></defs>
<g id="emblem" fill="#fff">
<path d="M120.1 95.6 C121.5 98 124.2 99.5 123.8 102.2 C123.5 104 121.8 104.6 120.1 104.6 C118.4 104.6 116.7 104 116.4 102.2 C116.1 100.4 117.6 99.8 118 98.6 C118.6 99.6 119 100.2 119.4 100.4 C119.2 98.6 119.4 97 120.1 95.6 Z"/>
<circle cx="120.1" cy="112.6" r="6"/>
<path d="M111.8 114.6 A8.4 8.4 0 0 0 128.4 114.6 A8.6 6.2 0 0 1 111.8 114.6 Z" />
<path d="M111.6 114.2 Q120.1 131 128.6 114.2 Q120.1 125.2 111.6 114.2 Z"/>
<rect x="105" y="124.2" width="7" height="33.1"/><rect x="128.2" y="124.2" width="7" height="33.1"/>
<polygon points="113.4,124.4 126.8,124.4 120.1,128.6"/>
<rect x="113.4" y="129.8" width="13.4" height="2.7"/>
<circle cx="120.1" cy="140.6" r="6.7"/>
<path d="M120.1 134.4 A3.1 3.1 0 0 1 120.1 140.6 A3.1 3.1 0 0 0 120.1 146.8" fill="none" stroke="#0553ad" stroke-width="0.8"/>
<circle cx="120.1" cy="137.5" r="0.9" fill="#0553ad"/><circle cx="120.1" cy="143.7" r="0.9" fill="#0553ad"/>
<rect x="113.4" y="148.8" width="13.4" height="2.7"/>
<polygon points="114.4,153.2 125.8,153.2 120.1,157.2"/>
<polyline points="80.6,182 100.8,170.7 120.1,181.6 174.5,149.4" fill="none" stroke="#fff" stroke-width="3.6" stroke-linejoin="miter"/>
<g clip-path="url(#embc)"><g clip-path="url(#embl)">
<rect x="85.5" y="140" width="12.5" height="70"/>
<rect x="104" y="140" width="12.9" height="70"/>
<rect x="122.9" y="140" width="12.9" height="70"/>
<rect x="142.7" y="140" width="12.5" height="70"/>
<rect x="161.6" y="140" width="12.5" height="70"/>
</g></g></g>
<g font-family="Liberation Sans, sans-serif" font-weight="bold" font-size="25" fill="#fff">
<text x="212" y="121.5">ҮНДЭСНИЙ</text>
<text x="212" y="151.5">СТАТИСТИКИЙН</text>
<text x="212" y="181.5">ХОРОО</text>
</g></g>
<g id="title" font-family="Liberation Sans, sans-serif" fill="#231f20">
<text transform="translate(1999.5 149.2) scale(0.9325 1)" text-anchor="end" font-weight="bold" font-size="59">УЛААНБААТАР ХОТЫН АГААР ДАХЬ</text>
<text transform="translate(2000 216.4) scale(0.9325 1)" text-anchor="end" font-weight="bold" font-size="59">РЫН</text>
<text transform="translate(1403.5 216.4) scale(0.9325 1)" font-weight="bold" font-size="59">РМ2.5</text>
<text transform="translate(1606.8 216.4) scale(1.05 1)" text-anchor="middle" font-weight="bold" font-size="59">Т</text>
<text transform="translate(2000.5 283.6) scale(0.9325 1)" text-anchor="end" font-weight="bold" font-size="59">АГУУЛАМЖ,</text>
<text transform="translate(1371.3 283.6) scale(1.006 1)" font-weight="bold" font-size="59">ДУНДАЖ</text>
<text transform="translate(1997 350.5) scale(1.07 1)" text-anchor="end" font-size="48">/микрограмм/м3/</text>
</g>
<g id="dn">
<circle cx="1744.7" cy="211.8" r="123.6" fill="#fdb40c"/>
<text transform="translate(1745 269.8) scale(0.87 1)" text-anchor="middle" font-family="Liberation Serif, serif" font-weight="bold" font-size="177" fill="#0a1a99">DN</text>
<g font-family="Liberation Sans, sans-serif" font-weight="bold" font-size="45" fill="#0a1a99" stroke="#0a1a99" stroke-width="0.9" text-anchor="middle">
<text transform="rotate(276.6 1744.7 213.3) translate(1744.7 50.0) scale(0.9 1)">Ө</text>
<text transform="rotate(293.6 1744.7 213.3) translate(1744.7 50.0) scale(0.9 1)">Д</text>
<text transform="rotate(306.6 1744.7 213.3) translate(1744.7 50.0) scale(0.9 1)">Р</text>
<text transform="rotate(325.3 1744.7 213.3) translate(1744.7 50.0) scale(0.9 1)">И</text>
<text transform="rotate(342.2 1744.7 213.3) translate(1744.7 50.0) scale(0.9 1)">Й</text>
<text transform="rotate(358.1 1744.7 213.3) translate(1744.7 50.0) scale(0.9 1)">Н</text>
<text transform="rotate(385.2 1744.7 213.3) translate(1744.7 50.0) scale(0.9 1)">С</text>
<text transform="rotate(402.1 1744.7 213.3) translate(1744.7 50.0) scale(0.9 1)">О</text>
<text transform="rotate(418.6 1744.7 213.3) translate(1744.7 50.0) scale(0.9 1)">Н</text>
<text transform="rotate(435.1 1744.7 213.3) translate(1744.7 50.0) scale(0.9 1)">И</text>
<text transform="rotate(91.0 1744.7 213.3) translate(1744.7 50.0) scale(0.9 1)">Н</text>
<text transform="rotate(118.3 1744.7 213.3) translate(1744.7 50.0) scale(0.9 1)">D</text>
<text transform="rotate(134.2 1744.7 213.3) translate(1744.7 50.0) scale(0.9 1)">A</text>
<text transform="rotate(148.7 1744.7 213.3) translate(1744.7 50.0) scale(0.9 1)">I</text>
<text transform="rotate(161.0 1744.7 213.3) translate(1744.7 50.0) scale(0.9 1)">L</text>
<text transform="rotate(175.3 1744.7 213.3) translate(1744.7 50.0) scale(0.9 1)">Y</text>
<text transform="rotate(201.2 1744.7 213.3) translate(1744.7 50.0) scale(0.9 1)">N</text>
<text transform="rotate(218.4 1744.7 213.3) translate(1744.7 50.0) scale(0.9 1)">E</text>
<text transform="rotate(236.1 1744.7 213.3) translate(1744.7 50.0) scale(0.9 1)">W</text>
<text transform="rotate(252.9 1744.7 213.3) translate(1744.7 50.0) scale(0.9 1)">S</text>
</g></g>
<g id="bars">
<rect x="232.5" y="502.8" width="52.5" height="693.7" fill="#d1d2d4"/>
<rect x="291.0" y="496.4" width="52.5" height="700.1" fill="#036691"/>
<rect x="378.6" y="658.9" width="52.5" height="537.6" fill="#d1d2d4"/>
<rect x="437.1" y="690.7" width="52.5" height="505.8" fill="#036691"/>
<rect x="524.6" y="962.1" width="52.5" height="234.4" fill="#d1d2d4"/>
<rect x="583.1" y="962.7" width="52.5" height="233.8" fill="#036691"/>
<rect x="670.7" y="1033.4" width="52.5" height="163.1" fill="#d1d2d4"/>
<rect x="729.2" y="1060.8" width="52.5" height="135.7" fill="#036691"/>
<rect x="816.7" y="1115.6" width="52.5" height="80.9" fill="#d1d2d4"/>
<rect x="875.2" y="1120.1" width="52.5" height="76.4" fill="#036691"/>
<rect x="962.8" y="1116.2" width="52.5" height="80.3" fill="#d1d2d4"/>
<rect x="1021.2" y="1121.3" width="52.5" height="75.2" fill="#036691"/>
<rect x="1108.8" y="1126.4" width="52.5" height="70.1" fill="#d1d2d4"/>
<rect x="1167.3" y="1144.9" width="52.5" height="51.6" fill="#036691"/>
<rect x="1254.9" y="1133.4" width="52.5" height="63.1" fill="#d1d2d4"/>
<rect x="1313.4" y="1148.7" width="52.5" height="47.8" fill="#036691"/>
<rect x="1400.9" y="1078.0" width="52.5" height="118.5" fill="#d1d2d4"/>
<rect x="1459.4" y="1129.0" width="52.5" height="67.5" fill="#036691"/>
<rect x="1547.0" y="999.0" width="52.5" height="197.5" fill="#d1d2d4"/>
<rect x="1605.5" y="1047.4" width="52.5" height="149.1" fill="#036691"/>
<rect x="1693.0" y="846.8" width="52.5" height="349.7" fill="#d1d2d4"/>
<rect x="1751.5" y="829.0" width="52.5" height="367.5" fill="#036691"/>
</g>
<g id="labels" font-family="Liberation Sans, sans-serif" font-size="48">
<text transform="translate(273.0 470.4) rotate(-90) scale(0.9625 1)" fill="#7f7f7f">108.9</text>
<text transform="translate(338.1 466.6) rotate(-90) scale(0.9625 1)" fill="#036691">109.9</text>
<text transform="translate(422.3 639.5) rotate(-90) scale(0.9625 1)" fill="#7f7f7f">84.4</text>
<text transform="translate(479.6 676.6) rotate(-90) scale(0.9625 1)" fill="#036691">79.4</text>
<text transform="translate(567.4 947.6) rotate(-90) scale(0.9625 1)" fill="#7f7f7f">36.8</text>
<text transform="translate(626.9 949.9) rotate(-90) scale(0.9625 1)" fill="#036691">36.7</text>
<text transform="translate(712.2 1017.2) rotate(-90) scale(0.9625 1)" fill="#7f7f7f">25.6</text>
<text transform="translate(772.9 1047.6) rotate(-90) scale(0.9625 1)" fill="#036691">21.3</text>
<text transform="translate(860.6 1100.7) rotate(-90) scale(0.9625 1)" fill="#7f7f7f">12.7</text>
<text transform="translate(916.9 1108.5) rotate(-90) scale(0.9625 1)" fill="#036691">12.0</text>
<text transform="translate(1009.4 1104.3) rotate(-90) scale(0.9625 1)" fill="#7f7f7f">12.6</text>
<text transform="translate(1068.0 1100.7) rotate(-90) scale(0.9625 1)" fill="#036691">11.8</text>
<text transform="translate(1151.7 1114.7) rotate(-90) scale(0.9625 1)" fill="#7f7f7f">11.0</text>
<text transform="translate(1212.7 1133.9) rotate(-90) scale(0.9625 1)" fill="#036691">8.1</text>
<text transform="translate(1297.0 1122.5) rotate(-90) scale(0.9625 1)" fill="#7f7f7f">9.9</text>
<text transform="translate(1356.4 1135.0) rotate(-90) scale(0.9625 1)" fill="#036691">7.5</text>
<text transform="translate(1441.8 1062.3) rotate(-90) scale(0.9625 1)" fill="#7f7f7f">18.6</text>
<text transform="translate(1503.9 1113.1) rotate(-90) scale(0.9625 1)" fill="#036691">10.6</text>
<text transform="translate(1589.3 986.7) rotate(-90) scale(0.9625 1)" fill="#7f7f7f">31.0</text>
<text transform="translate(1649.4 1031.2) rotate(-90) scale(0.9625 1)" fill="#036691">23.4</text>
<text transform="translate(1735.2 834.9) rotate(-90) scale(0.9625 1)" fill="#7f7f7f">54.9</text>
<text transform="translate(1793.6 813.2) rotate(-90) scale(0.9625 1)" fill="#036691">57.7</text>
</g>
<rect x="138" y="874.3" width="1772" height="2" fill="#d0191c"/>
<rect x="393" y="313" width="2" height="2" fill="#e03030"/>
<g stroke="#7a7a7a" stroke-width="1.3" fill="none">
<path d="M215.5 1196.5 H1832.5"/>
<path d="M215.5 1196.5 V1263"/>
<path d="M362.2 1196.5 V1263"/>
<path d="M508.9 1196.5 V1263"/>
<path d="M655.6 1196.5 V1263"/>
<path d="M802.3 1196.5 V1263"/>
<path d="M949.0 1196.5 V1263"/>
<path d="M1095.7 1196.5 V1263"/>
<path d="M1242.4 1196.5 V1263"/>
<path d="M1389.1 1196.5 V1263"/>
<path d="M1535.8 1196.5 V1263"/>
<path d="M1682.5 1196.5 V1263"/>
<path d="M1832.5 1196.5 V1263"/>
</g>
<g font-family="Liberation Sans, sans-serif" font-size="38" fill="#1a1a1a" text-anchor="middle">
<text x="288.9" y="1257.5">I</text>
<text x="435.5" y="1257.5">II</text>
<text x="582.2" y="1257.5">III</text>
<text x="728.9" y="1257.5">IV</text>
<text x="875.6" y="1257.5">V</text>
<text x="1022.3" y="1257.5">VI</text>
<text x="1169.0" y="1257.5">VII</text>
<text x="1315.8" y="1257.5">VIII</text>
<text x="1462.4" y="1257.5">IX</text>
<text x="1609.1" y="1257.5">X</text>
<text x="1761.5" y="1257.5">XI</text>
</g>
<g font-family="Liberation Sans, sans-serif" font-weight="bold" fill="#9cc1db">
<text x="1224" y="681.3" font-size="181">PM</text>
<text transform="translate(1502 712.6) scale(1.027 1)" font-size="89">2.5</text>
</g>
<g font-family="Liberation Sans, sans-serif" fill="#1a1a1a">
<rect x="559.8" y="1357.8" width="26.4" height="26.6" fill="#d1d2d4"/>
<rect x="851.8" y="1357.8" width="26.4" height="26.6" fill="#036691"/>
<rect x="1133" y="1371" width="26" height="2" fill="#d0191c"/>
<text x="604" y="1385" font-size="42">2022 он</text>
<text x="894.3" y="1385" font-size="42">2023 он</text>
<text x="1192" y="1385" font-size="42">Хүлцэх хэмжээ</text>
<text x="1243.5" y="1529" font-size="32.7">Эх сурвалж: Цаг уур, орчны шинжилгээний газар</text>
</g>

</svg>
</body></html>
